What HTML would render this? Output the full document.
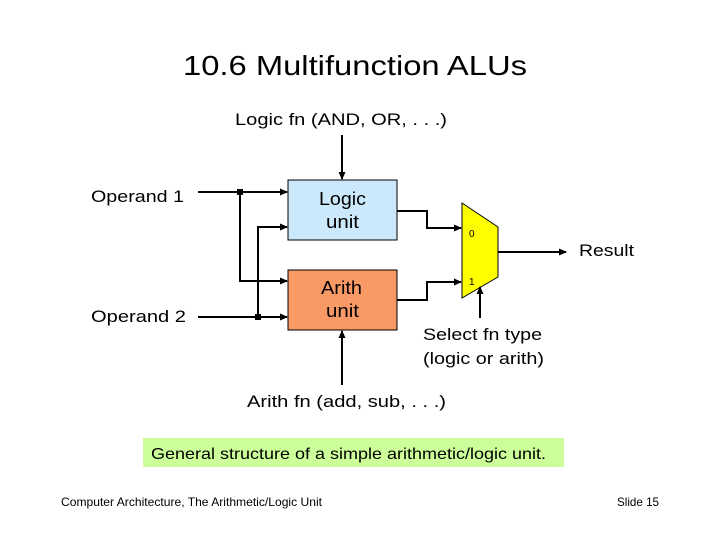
<!DOCTYPE html>
<html><head><meta charset="utf-8"><style>
body{margin:0;background:#fff;}
svg{display:block;}
text{font-family:"Liberation Sans",Arial,sans-serif;fill:#000;}
</style></head><body>
<svg width="720" height="540" viewBox="0 0 720 540" xmlns="http://www.w3.org/2000/svg">
<defs>
<marker id="a" markerWidth="8" markerHeight="8" refX="7" refY="4" orient="auto" markerUnits="userSpaceOnUse">
<path d="M0,0.5 L8,4 L0,7.5 z" fill="#000"/></marker>
</defs>
<text x="183" y="75" font-size="28" textLength="344" lengthAdjust="spacingAndGlyphs">10.6  Multifunction ALUs</text>
<text x="235" y="125" font-size="17" textLength="212" lengthAdjust="spacingAndGlyphs">Logic fn (AND, OR, . . .)</text>
<text x="91" y="202" font-size="17" textLength="93" lengthAdjust="spacingAndGlyphs">Operand 1</text>
<text x="91" y="322" font-size="17" textLength="95" lengthAdjust="spacingAndGlyphs">Operand 2</text>
<rect x="288" y="180" width="109" height="60" fill="#cce8fb" stroke="#000" stroke-width="1"/>
<text x="319" y="205" font-size="18" textLength="47" lengthAdjust="spacingAndGlyphs">Logic</text>
<text x="326" y="228" font-size="18" textLength="33" lengthAdjust="spacingAndGlyphs">unit</text>
<rect x="288" y="270" width="109" height="60" fill="#f99966" stroke="#000" stroke-width="1"/>
<text x="321" y="294" font-size="18" textLength="41" lengthAdjust="spacingAndGlyphs">Arith</text>
<text x="326" y="317" font-size="18" textLength="33" lengthAdjust="spacingAndGlyphs">unit</text>
<polygon points="462,203 498,227 498,277 462,298" fill="#ffff00" stroke="#000" stroke-width="1"/>
<text x="469" y="237" font-size="10">0</text>
<text x="469" y="285" font-size="10">1</text>
<g stroke="#000" stroke-width="2" fill="none">
<line x1="342" y1="135" x2="342" y2="179" marker-end="url(#a)"/>
<line x1="342" y1="385" x2="342" y2="331" marker-end="url(#a)"/>
<line x1="198" y1="192" x2="287" y2="192" marker-end="url(#a)"/>
<polyline points="240,192 240,281 287,281" marker-end="url(#a)"/>
<line x1="198" y1="317" x2="287" y2="317" marker-end="url(#a)"/>
<polyline points="258,317 258,227 287,227" marker-end="url(#a)"/>
<polyline points="397,211 427,211 427,228 461,228" marker-end="url(#a)"/>
<polyline points="397,300 427,300 427,282 461,282" marker-end="url(#a)"/>
<line x1="498" y1="252" x2="566" y2="252" marker-end="url(#a)"/>
<line x1="480" y1="318" x2="480" y2="287" marker-end="url(#a)"/>
</g>
<rect x="237" y="189" width="6" height="6" fill="#000"/>
<rect x="255" y="314" width="6" height="6" fill="#000"/>
<text x="579" y="256" font-size="17" textLength="55" lengthAdjust="spacingAndGlyphs">Result</text>
<text x="423" y="340" font-size="17" textLength="119" lengthAdjust="spacingAndGlyphs">Select fn type</text>
<text x="423" y="364" font-size="17" textLength="121" lengthAdjust="spacingAndGlyphs">(logic or arith)</text>
<text x="247" y="407" font-size="17" textLength="199" lengthAdjust="spacingAndGlyphs">Arith fn (add, sub, . . .)</text>
<rect x="143" y="438" width="421" height="29" fill="#ccff99"/>
<text x="151" y="459" font-size="16" textLength="395" lengthAdjust="spacingAndGlyphs">General structure of a simple arithmetic/logic unit.</text>
<text x="61" y="506" font-size="12" textLength="261" lengthAdjust="spacingAndGlyphs">Computer Architecture, The Arithmetic/Logic Unit</text>
<text x="617" y="506" font-size="12" textLength="42" lengthAdjust="spacingAndGlyphs">Slide 15</text>
</svg>
</body></html>
